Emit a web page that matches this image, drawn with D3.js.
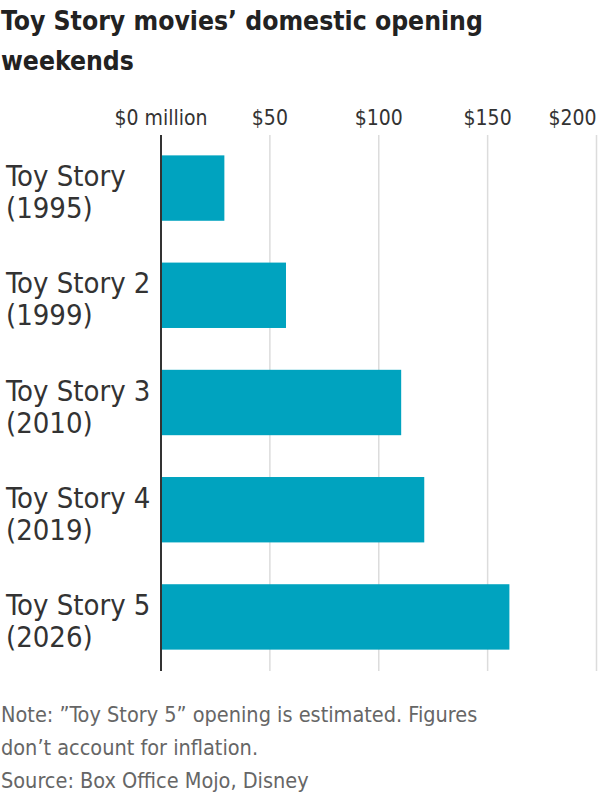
<!DOCTYPE html>
<html><head><meta charset="utf-8">
<script src="https://cdn.jsdelivr.net/npm/d3@7"></script>
<style>body{margin:0;background:#fff}svg{display:block}</style>
</head><body>
<script>
const titleLines = ["Toy Story movies’ domestic opening", "weekends"];
const categories = ["Toy Story|(1995)", "Toy Story 2|(1999)", "Toy Story 3|(2010)", "Toy Story 4|(2019)", "Toy Story 5|(2026)"];
const values = [29.1, 57.4, 110.3, 120.9, 160];
const tickValues = [0, 50, 100, 150, 200];
const tickLabels = ["$0 million", "$50", "$100", "$150", "$200"];
const noteLines = ["Note: ”Toy Story 5” opening is estimated. Figures", "don’t account for inflation.", "Source: Box Office Mojo, Disney"];

const W = 600, H = 800;
const svg = d3.select("body").append("svg").attr("width", W).attr("height", H);
const narrow = "'DejaVu Sans Condensed', 'Roboto', sans-serif";

svg.append("g").selectAll("text").data(titleLines).join("text")
  .attr("x", 1).attr("y", (d, i) => 30 + i * 40)
  .attr("font-family", narrow).attr("font-weight", "bold").attr("font-size", 26.3)
  .attr("fill", "#222").text(d => d);

const x = d3.scaleLinear().domain([0, 200]).range([161, 596.5]);
const y = d3.scaleBand().domain(categories).range([135, 670]).paddingInner(0.39).paddingOuter(0.19);

svg.append("g").selectAll("line").data(tickValues.filter(v => v > 0)).join("line")
  .attr("x1", d => x(d)).attr("x2", d => x(d)).attr("y1", 135).attr("y2", 671)
  .attr("stroke", "#dcdcdc").attr("stroke-width", 1.5);

svg.append("g").selectAll("text").data(tickValues).join("text")
  .attr("x", d => x(d))
  .attr("y", 125)
  .attr("text-anchor", (d, i) => i === tickValues.length - 1 ? "end" : "middle")
  .attr("font-family", narrow).attr("font-size", 21).attr("fill", "#333")
  .text((d, i) => tickLabels[i]);

svg.append("g").selectAll("rect").data(values).join("rect")
  .attr("x", x(0)).attr("y", (d, i) => y(categories[i]))
  .attr("width", d => x(d) - x(0)).attr("height", y.bandwidth())
  .attr("fill", "#00a3bf");

svg.append("line").attr("x1", x(0)).attr("x2", x(0)).attr("y1", 135).attr("y2", 671)
  .attr("stroke", "#333").attr("stroke-width", 2);

const lab = svg.append("g").selectAll("text").data(categories).join("text")
  .attr("font-family", narrow).attr("font-size", 29).attr("fill", "#333");
lab.each(function(d) {
  const parts = d.split("|");
  const cy = y(d) + y.bandwidth() / 2;
  d3.select(this).selectAll("tspan").data(parts).join("tspan")
    .attr("x", 6).attr("y", (p, i) => cy - 2 + i * 32).text(p => p);
});

svg.append("g").selectAll("text").data(noteLines).join("text")
  .attr("x", 1).attr("y", (d, i) => 722 + i * 33)
  .attr("font-family", narrow).attr("font-size", 21.5).attr("fill", "#666")
  .text(d => d);
</script>
</body></html>
